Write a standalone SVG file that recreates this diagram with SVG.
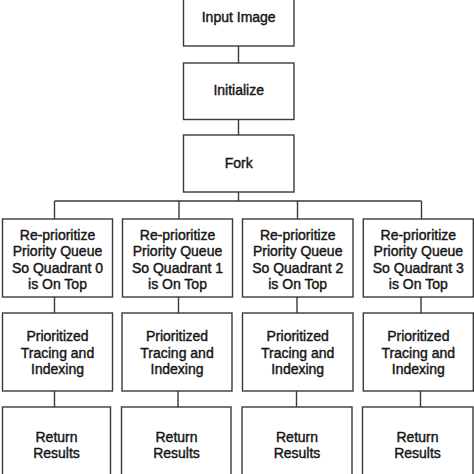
<svg xmlns="http://www.w3.org/2000/svg" width="474" height="474" viewBox="0 0 474 474">
<style>
.box{fill:#fff;stroke:#3a3a3a;stroke-width:1.4}
.ln{fill:none;stroke:#3a3a3a;stroke-width:1.4}
text{font-family:"Liberation Sans",Arial,sans-serif;font-size:14px;fill:#151515;text-anchor:middle;stroke:#151515;stroke-width:0.4}
</style>
<rect width="474" height="474" fill="#fff"/>
<g id="connectors">
<path class="ln" d="M238.5,46V63M238.5,119.5V135M238.5,192V201M54.5,201H421.5M54.5,201V219M179,201V219M297.5,201V219M421.5,201V219"/>
<path class="ln" d="M54.5,297V313M178.5,297V313M297,297V313M421,297V313"/>
<path class="ln" d="M54.5,391V407M178,391V407M296.5,391V407M420.5,391V407"/>
</g>
<g id="input-image"><rect class="box" x="183.5" y="-2" width="110.5" height="48"/><text x="238.7" y="22">Input Image</text></g>
<g id="initialize"><rect class="box" x="183.5" y="63" width="110.5" height="56.5"/><text x="238.7" y="95">Initialize</text></g>
<g id="fork"><rect class="box" x="183.5" y="135" width="110.5" height="57"/><text x="238.7" y="167.5">Fork</text></g>

<g id="reprio-0"><rect class="box" x="2.5" y="219" width="110" height="78"/><text x="57.5" y="239.5">Re-prioritize</text><text x="57.5" y="256">Priority Queue</text><text x="57.5" y="272.5">So Quadrant 0</text><text x="57.5" y="289">is On Top</text></g>
<g id="reprio-1"><rect class="box" x="122.5" y="219" width="110" height="78"/><text x="177.5" y="239.5">Re-prioritize</text><text x="177.5" y="256">Priority Queue</text><text x="177.5" y="272.5">So Quadrant 1</text><text x="177.5" y="289">is On Top</text></g>
<g id="reprio-2"><rect class="box" x="242.5" y="219" width="110.5" height="78"/><text x="297.7" y="239.5">Re-prioritize</text><text x="297.7" y="256">Priority Queue</text><text x="297.7" y="272.5">So Quadrant 2</text><text x="297.7" y="289">is On Top</text></g>
<g id="reprio-3"><rect class="box" x="363.3" y="219" width="110" height="78"/><text x="418.3" y="239.5">Re-prioritize</text><text x="418.3" y="256">Priority Queue</text><text x="418.3" y="272.5">So Quadrant 3</text><text x="418.3" y="289">is On Top</text></g>

<g id="trace-0"><rect class="box" x="2.5" y="313" width="110" height="78"/><text x="57.5" y="341">Prioritized</text><text x="57.5" y="357.5">Tracing and</text><text x="57.5" y="374">Indexing</text></g>
<g id="trace-1"><rect class="box" x="122" y="313" width="110" height="78"/><text x="177" y="341">Prioritized</text><text x="177" y="357.5">Tracing and</text><text x="177" y="374">Indexing</text></g>
<g id="trace-2"><rect class="box" x="242.5" y="313" width="110.5" height="78"/><text x="297.7" y="341">Prioritized</text><text x="297.7" y="357.5">Tracing and</text><text x="297.7" y="374">Indexing</text></g>
<g id="trace-3"><rect class="box" x="363.3" y="313" width="110" height="78"/><text x="418.3" y="341">Prioritized</text><text x="418.3" y="357.5">Tracing and</text><text x="418.3" y="374">Indexing</text></g>

<g id="return-0"><rect class="box" x="2.5" y="407" width="108" height="80"/><text x="56.5" y="442">Return</text><text x="56.5" y="457.5">Results</text></g>
<g id="return-1"><rect class="box" x="121.5" y="407" width="109.5" height="80"/><text x="176.5" y="442">Return</text><text x="176.5" y="457.5">Results</text></g>
<g id="return-2"><rect class="box" x="242" y="407" width="110" height="80"/><text x="297" y="442">Return</text><text x="297" y="457.5">Results</text></g>
<g id="return-3"><rect class="box" x="362.5" y="407" width="110.5" height="80"/><text x="417.5" y="442">Return</text><text x="417.5" y="457.5">Results</text></g>
</svg>
